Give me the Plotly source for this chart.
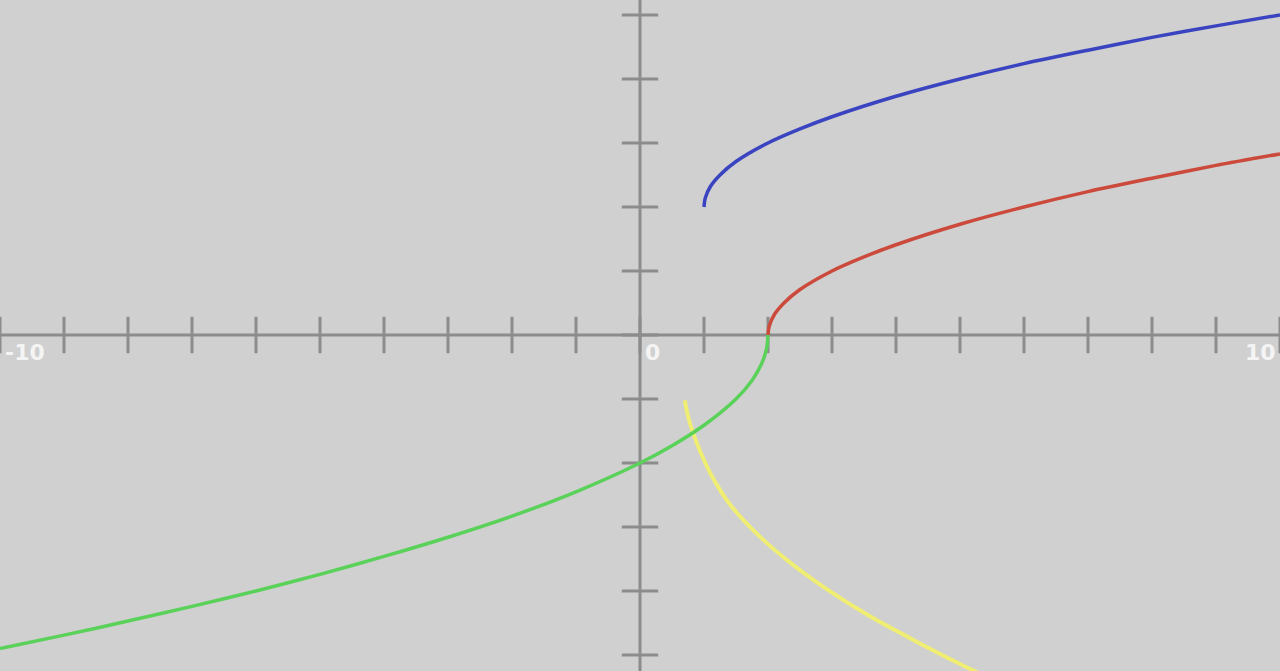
import plotly.graph_objects as go

# curves (x, y in graph units)
blue_x = [1, 1.02, 1.1, 1.25, 1.5, 2, 2.5, 3, 4, 5, 6, 7, 8, 9, 10]
blue_y = [2, 2.14, 2.32, 2.5, 2.71, 3.0, 3.22, 3.41, 3.73, 4.0, 4.24, 4.45, 4.65, 4.83, 5.0]

red_x = [2, 2.02, 2.1, 2.25, 2.5, 3, 3.5, 4, 5, 6, 7, 8, 9, 10]
red_y = [0, 0.14, 0.32, 0.5, 0.71, 1.0, 1.22, 1.41, 1.73, 2.0, 2.24, 2.45, 2.65, 2.83]

green_x = [-10, -9, -8, -7, -6, -5, -4, -3, -2, -1, 0, 0.5, 1, 1.5, 1.75, 1.9, 1.98, 2]
green_y = [-4.9, -4.69, -4.47, -4.24, -4.0, -3.74, -3.46, -3.16, -2.83, -2.45, -2.0,
           -1.73, -1.41, -1.0, -0.71, -0.45, -0.2, 0]

yellow_x = [0.7, 0.75, 0.83, 0.95, 1.12, 1.4, 1.8, 2.3, 2.9, 3.6, 4.3, 5.0, 5.5]
yellow_y = [-1.02, -1.27, -1.53, -1.84, -2.2, -2.64, -3.08, -3.52, -3.96, -4.4,
            -4.78, -5.14, -5.38]

x_ticks = list(range(-10, 11))
y_ticks = list(range(-5, 6))
tick_labels = [(-10, "-10"), (0, "0"), (10, "10")]

axis_col = "#8c8c8c"

fig = go.Figure()

# axis lines
fig.add_trace(go.Scatter(x=[-10, 10], y=[0, 0], mode="lines",
                         line=dict(color=axis_col, width=3), hoverinfo="skip"))
fig.add_trace(go.Scatter(x=[0, 0], y=[-5.3, 5.3], mode="lines",
                         line=dict(color=axis_col, width=3), hoverinfo="skip"))
# tick marks
fig.add_trace(go.Scatter(x=x_ticks, y=[0] * len(x_ticks), mode="markers",
                         marker=dict(symbol="line-ns", size=26,
                                     line=dict(color=axis_col, width=3)),
                         hoverinfo="skip"))
fig.add_trace(go.Scatter(x=[0] * len(y_ticks), y=y_ticks, mode="markers",
                         marker=dict(symbol="line-ew", size=26,
                                     line=dict(color=axis_col, width=3)),
                         hoverinfo="skip"))

curves = [
    (yellow_x, yellow_y, "#f0ee72", 4),
    (green_x, green_y, "#5ad25a", 3.5),
    (red_x, red_y, "#cc4a3c", 3.5),
    (blue_x, blue_y, "#3a44c0", 3.5),
]
for xs, ys, col, w in curves:
    fig.add_trace(go.Scatter(x=xs, y=ys, mode="lines", line_shape="spline",
                             line=dict(color=col, width=w, smoothing=0.8)))

for v, t in tick_labels:
    anchor = "left"
    shift = 3
    if v == 10:
        anchor = "right"
        shift = -2
    fig.add_annotation(x=v, y=0, text="<b>" + t + "</b>", showarrow=False,
                       xanchor=anchor, yanchor="top", xshift=shift, yshift=-3,
                       font=dict(family="DejaVu Sans", size=22, color="#f4f4f4"))

fig.update_layout(
    width=1280, height=671,
    margin=dict(l=0, r=0, t=0, b=0),
    paper_bgcolor="#d0d0d0",
    plot_bgcolor="#d0d0d0",
    showlegend=False,
    xaxis=dict(range=[-10, 10], visible=False, fixedrange=True),
    yaxis=dict(range=[-5.25, 5.234], visible=False, fixedrange=True),
)

fig.write_html("out.html", config={"displayModeBar": False},
               post_script="document.body.style.margin='0';"
                           "document.body.style.background='#d0d0d0';")
